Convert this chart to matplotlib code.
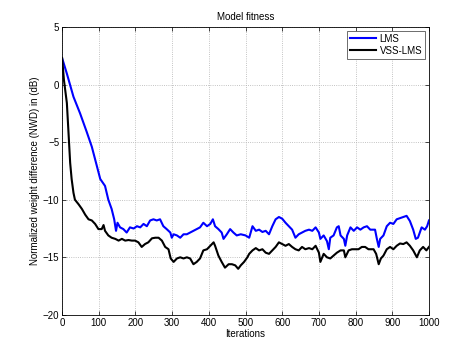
#!/usr/bin/env python3
"""
Model fitness: normalized weight difference of LMS vs VSS-LMS.
"""
import matplotlib
matplotlib.use('Agg')
import matplotlib.pyplot as plt

# LMS curve (iteration, NWD in dB)
lms_it = [0, 13, 31, 49, 67, 81, 95, 104, 117, 126, 135, 142, 147, 151,
          158, 167, 176, 185, 195, 204, 213, 222, 231, 240, 249, 258, 267,
          276, 285, 295, 299, 304, 313, 322, 331, 340, 349, 358, 367, 376,
          385, 395, 404, 411, 417, 426, 435, 440, 449, 458, 467, 476, 487,
          500, 510, 519, 528, 537, 546, 555, 564, 573, 582, 591, 600, 609,
          618, 627, 636, 645, 654, 663, 673, 682, 691, 700, 704, 713, 722,
          727, 731, 740, 749, 754, 759, 768, 772, 777, 786, 795, 804, 813,
          822, 831, 840, 853, 858, 863, 867, 876, 885, 894, 903, 912, 921,
          930, 939, 948, 957, 964, 970, 980, 989, 995, 1000]
lms_db = [2.3, 0.95, -1.06, -2.5, -4.1, -5.4, -7.1, -8.2, -8.8, -10.0,
          -10.8, -11.7, -12.7, -12.0, -12.4, -12.55, -12.85, -12.4, -12.5,
          -12.3, -12.4, -12.1, -12.3, -11.8, -11.7, -11.8, -11.7, -12.3,
          -12.55, -12.85, -13.3, -13.0, -13.1, -13.3, -13.0, -13.0, -12.85,
          -12.7, -12.55, -12.4, -12.0, -12.3, -12.1, -11.7, -12.3, -12.55,
          -12.85, -13.4, -13.0, -12.55, -12.85, -13.1, -13.0, -13.1, -13.3,
          -12.3, -12.7, -12.6, -12.8, -12.7, -13.0, -12.3, -11.7, -11.5,
          -11.65, -12.0, -12.3, -12.6, -13.3, -13.0, -12.85, -12.7, -12.6,
          -12.7, -12.4, -12.85, -13.4, -13.1, -13.6, -14.3, -13.3, -13.1,
          -12.4, -12.3, -13.1, -13.4, -14.0, -13.1, -12.4, -12.7, -12.4,
          -12.6, -12.4, -12.3, -12.6, -12.6, -13.4, -14.1, -13.4, -13.1,
          -12.3, -12.0, -12.1, -11.7, -11.6, -11.5, -11.4, -11.85, -12.6,
          -13.4, -13.3, -12.4, -12.6, -12.3, -11.8]

# VSS-LMS curve
vss_it = [0, 5, 13, 17, 22, 26, 31, 35, 45, 54, 63, 72, 81, 90, 99, 108,
          113, 117, 126, 135, 145, 154, 163, 172, 181, 190, 199, 208, 217,
          226, 235, 245, 254, 263, 272, 281, 290, 296, 304, 313, 322, 331,
          340, 349, 358, 367, 376, 385, 395, 404, 413, 417, 426, 435, 444,
          454, 463, 472, 480, 487, 496, 505, 510, 519, 528, 537, 546, 555,
          564, 573, 582, 591, 600, 609, 618, 627, 636, 645, 654, 663, 673,
          682, 691, 700, 704, 713, 722, 731, 740, 749, 759, 768, 772, 781,
          790, 799, 808, 817, 826, 835, 849, 856, 863, 869, 876, 885, 894,
          903, 912, 921, 930, 939, 948, 957, 967, 975, 984, 993, 1000]
vss_db = [2.3, 0.4, -1.6, -3.9, -6.8, -8.2, -9.4, -10.0, -10.4, -10.8,
          -11.3, -11.7, -11.8, -12.1, -12.55, -12.55, -12.2, -12.7, -13.1,
          -13.3, -13.4, -13.55, -13.4, -13.55, -13.5, -13.55, -13.55, -13.7,
          -14.1, -13.85, -13.7, -13.35, -13.3, -13.3, -13.55, -14.1, -14.3,
          -15.1, -15.4, -15.1, -15.0, -15.1, -15.0, -15.1, -15.6, -15.4,
          -15.1, -14.4, -14.3, -14.0, -13.7, -14.0, -14.85, -15.4, -15.9,
          -15.6, -15.6, -15.7, -16.0, -15.7, -15.4, -15.0, -14.7, -14.4,
          -14.2, -14.4, -14.3, -14.6, -14.7, -14.4, -14.1, -13.7, -13.85,
          -14.0, -13.85, -14.1, -14.3, -14.4, -14.1, -14.3, -14.2, -14.3,
          -14.0, -14.6, -15.4, -14.7, -15.0, -15.1, -14.85, -14.6, -14.4,
          -14.4, -15.0, -14.4, -14.3, -14.3, -14.3, -14.1, -14.1, -14.3,
          -14.3, -14.7, -15.6, -15.1, -14.85, -14.3, -14.1, -14.3, -14.0,
          -13.8, -13.85, -13.7, -14.0, -14.4, -15.0, -14.4, -14.1, -14.4,
          -14.1]

xticks = list(range(0, 1001, 100))
yticks = [-20, -15, -10, -5, 0, 5]

plt.rcParams['font.family'] = ['Liberation Sans', 'DejaVu Sans']
plt.rcParams['font.size'] = 7

fig = plt.figure(figsize=(4.74, 3.55), dpi=100)
ax = fig.add_axes([0.131, 0.113, 0.774, 0.811])

ax.plot(lms_it, lms_db, color='#0000ff', lw=1.5, label='LMS')
ax.plot(vss_it, vss_db, color='black', lw=1.5, label='VSS-LMS')

ax.set_xlim(0, 1000)
ax.set_ylim(-20, 5)
ax.set_xticks(xticks)
ax.set_yticks(yticks)
ax.tick_params(direction='in', length=3, width=0.5, top=True, right=True,
               labelsize=7, pad=2)
for s in ax.spines.values():
    s.set_linewidth(0.6)
ax.grid(True, linestyle=':', color='#b0b0b0', lw=0.6)

ax.set_title('Model fitness', fontsize=7, pad=5)
ax.set_xlabel('Iterations', fontsize=7, labelpad=1)
ax.set_ylabel('Normalized weight difference (NWD) in (dB)', fontsize=7,
              labelpad=2)

leg = ax.legend(loc='upper right', fontsize=7, fancybox=False,
                framealpha=1, edgecolor='#555555', borderaxespad=0.4,
                handlelength=2.6, handletextpad=0.4, borderpad=0.3,
                labelspacing=0.2)
leg.get_frame().set_linewidth(0.6)

fig.savefig('out.png', dpi=100)
